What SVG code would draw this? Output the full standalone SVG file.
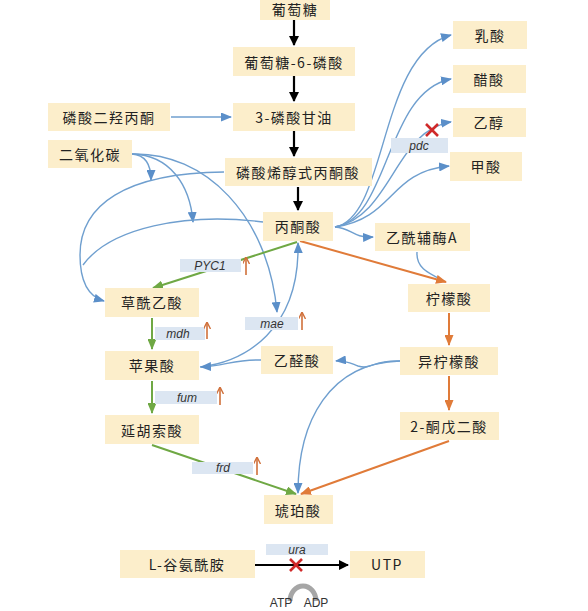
<svg xmlns="http://www.w3.org/2000/svg" width="588" height="611" viewBox="0 0 588 611">
<style>
.box{fill:#FCEECB}
.t{font-family:"Noto Sans CJK SC","Liberation Sans",sans-serif;font-size:14px;fill:#222;text-anchor:middle;dominant-baseline:central;letter-spacing:1.5px}
.lb{fill:#DCE6F2}
.lt{font-family:"Liberation Sans",Arial,sans-serif;font-size:12px;font-style:italic;fill:#333;text-anchor:middle;dominant-baseline:central}
.blue{fill:none;stroke:#6F9FCF;stroke-width:1.4}
.org{fill:none;stroke:#E07B39;stroke-width:2}
.grn{fill:none;stroke:#6FA844;stroke-width:2}
.blk{fill:none;stroke:#000;stroke-width:2.2}
.up{fill:none;stroke:#D0703A;stroke-width:1.6}
.x{stroke:#D02A2A;stroke-width:2.6;fill:none}
.ap{font-family:"Liberation Sans",Arial,sans-serif;font-size:12px;fill:#333;text-anchor:middle}
</style>
<defs>
<marker id="mb" markerWidth="11" markerHeight="9" refX="10" refY="4.5" orient="auto" markerUnits="userSpaceOnUse"><path d="M0,0 L11,4.5 L0,9 z" fill="#5B8FC9"/></marker>
<marker id="mo" markerWidth="11" markerHeight="9" refX="10" refY="4.5" orient="auto" markerUnits="userSpaceOnUse"><path d="M0,0 L11,4.5 L0,9 z" fill="#E07B39"/></marker>
<marker id="mg" markerWidth="11" markerHeight="9" refX="10" refY="4.5" orient="auto" markerUnits="userSpaceOnUse"><path d="M0,0 L11,4.5 L0,9 z" fill="#6FA844"/></marker>
<marker id="mk" markerWidth="10" markerHeight="10" refX="9" refY="5" orient="auto" markerUnits="userSpaceOnUse"><path d="M0,0 L10,5 L0,10 z" fill="#000"/></marker>
<marker id="mu" markerWidth="7" markerHeight="7" refX="6" refY="3.5" orient="auto" markerUnits="userSpaceOnUse"><path d="M0,0 L7,3.5 L0,7" fill="none" stroke="#D0703A" stroke-width="1.4"/></marker>
</defs>

<g id="connectors">
<path class="blk" d="M294,20 L294,45" marker-end="url(#mk)"/>
<path class="blk" d="M294,76 L294,101" marker-end="url(#mk)"/>
<path class="blk" d="M294,131 L294,156" marker-end="url(#mk)"/>
<path class="blk" d="M298,187 L298,210" marker-end="url(#mk)"/>
<path class="blue" d="M171,117 L231,117" marker-end="url(#mb)"/>
<path class="blue" d="M335,227 C388,218 378,55 451,35" marker-end="url(#mb)"/>
<path class="blue" d="M335,227 C390,218 385,92 451,79" marker-end="url(#mb)"/>
<path class="blue" d="M335,227 C392,216 395,130 451,122" marker-end="url(#mb)"/>
<path class="blue" d="M335,227 C395,218 388,172 449,166" marker-end="url(#mb)"/>
<path class="blue" d="M335,227 C352,228 352,238 373,237" marker-end="url(#mb)"/>
<path class="blue" d="M417,252 C416,268 428,273 444,281"/>
<path class="blue" d="M132,154 C146,155 151,165 151,180" marker-end="url(#mb)"/>
<path class="blue" d="M132,154 C170,155 190,185 193,222" marker-end="url(#mb)"/>
<path class="blue" d="M132,154 C205,152 268,215 277,312" marker-end="url(#mb)"/>
<path class="blue" d="M224,172 C125,173 80,205 80,255 C80,285 90,297 104,301" marker-end="url(#mb)"/>
<path class="blue" d="M263,222 C185,212 110,228 83,265"/>
<path class="blue" d="M200,367 C245,362 300,330 298,243" marker-end="url(#mb)"/>
<path class="blue" d="M261,360 C235,359 225,366 201,367" marker-end="url(#mb)"/>
<path class="blue" d="M400,361 C372,360 372,370 358,366 C350,363 345,360 336,361" marker-end="url(#mb)"/>
<path class="blue" d="M400,361 C330,363 298,420 298,493" marker-end="url(#mb)"/>
<path class="org" d="M300,241 L446,282" marker-end="url(#mo)"/>
<path class="org" d="M449,313 L449,345" marker-end="url(#mo)"/>
<path class="org" d="M449,376 L449,410" marker-end="url(#mo)"/>
<path class="org" d="M449,441 L301,494" marker-end="url(#mo)"/>
<path class="grn" d="M297,242 L153,288" marker-end="url(#mg)"/>
<path class="grn" d="M152,318 L152,349" marker-end="url(#mg)"/>
<path class="grn" d="M152,381 L152,413" marker-end="url(#mg)"/>
<path class="grn" d="M152,445 L296,494" marker-end="url(#mg)"/>
<path class="blk" d="M255,565 L348,565" marker-end="url(#mk)"/>
<path d="M290,601 A13,15 0 0 1 316,601" fill="none" stroke="#A6A6A6" stroke-width="5"/>
</g>

<g id="enzyme-labels">
<rect class="lb" x="391" y="138" width="57" height="15"/><text class="lt" x="419" y="146">pdc</text>
<rect class="lb" x="180" y="259" width="61" height="13"/><text class="lt" x="210" y="265.5">PYC1</text>
<path class="up" d="M246,275 L246,258" marker-end="url(#mu)"/>
<rect class="lb" x="155" y="327" width="50" height="13"/><text class="lt" x="178" y="333.5">mdh</text>
<path class="up" d="M207,339 L207,323" marker-end="url(#mu)"/>
<rect class="lb" x="245" y="317" width="53" height="13"/><text class="lt" x="272" y="323.5">mae</text>
<path class="up" d="M302,330 L302,313" marker-end="url(#mu)"/>
<rect class="lb" x="155" y="391" width="62" height="13"/><text class="lt" x="187" y="397.5">fum</text>
<path class="up" d="M220,405 L220,388" marker-end="url(#mu)"/>
<rect class="lb" x="192" y="462" width="61" height="12"/><text class="lt" x="223" y="468">frd</text>
<path class="up" d="M257,475 L257,458" marker-end="url(#mu)"/>
<rect class="lb" x="266" y="544" width="62" height="11"/><text class="lt" x="297" y="549.5">ura</text>
<path class="x" d="M426,124 L438,136 M438,124 L426,136"/>
<path class="x" d="M290,559 L302,571 M302,559 L290,571"/>
<text class="ap" x="281" y="607">ATP</text>
<text class="ap" x="316" y="607">ADP</text>
</g>

<g id="glucose"><rect class="box" x="260" y="-2" width="70" height="22"/><text class="t" x="295" y="9">葡萄糖</text></g>
<g id="g6p"><rect class="box" x="233" y="47" width="122" height="29"/><text class="t" x="294" y="62">葡萄糖-6-磷酸</text></g>
<g id="dhap"><rect class="box" x="48" y="103" width="122" height="28"/><text class="t" x="109" y="117">磷酸二羟丙酮</text></g>
<g id="g3p"><rect class="box" x="233" y="103" width="122" height="28"/><text class="t" x="294" y="117">3-磷酸甘油</text></g>
<g id="co2"><rect class="box" x="48" y="140" width="84" height="28"/><text class="t" x="90" y="154">二氧化碳</text></g>
<g id="pep"><rect class="box" x="225" y="158" width="147" height="28"/><text class="t" x="298" y="172">磷酸烯醇式丙酮酸</text></g>
<g id="pyruvate"><rect class="box" x="263" y="212" width="70" height="29"/><text class="t" x="298" y="226">丙酮酸</text></g>
<g id="acetylcoa"><rect class="box" x="375" y="223" width="95" height="28"/><text class="t" x="422" y="237">乙酰辅酶A</text></g>
<g id="lactate"><rect class="box" x="453" y="21" width="74" height="28"/><text class="t" x="490" y="35">乳酸</text></g>
<g id="acetate"><rect class="box" x="453" y="65" width="73" height="28"/><text class="t" x="489" y="79">醋酸</text></g>
<g id="ethanol"><rect class="box" x="453" y="108" width="73" height="29"/><text class="t" x="489" y="122">乙醇</text></g>
<g id="formate"><rect class="box" x="450" y="152" width="72" height="29"/><text class="t" x="486" y="166">甲酸</text></g>
<g id="oaa"><rect class="box" x="105" y="288" width="94" height="29"/><text class="t" x="152" y="302">草酰乙酸</text></g>
<g id="citrate"><rect class="box" x="408" y="284" width="82" height="28"/><text class="t" x="449" y="298">柠檬酸</text></g>
<g id="malate"><rect class="box" x="105" y="351" width="94" height="29"/><text class="t" x="152" y="365">苹果酸</text></g>
<g id="glyoxylate"><rect class="box" x="261" y="346" width="72" height="28"/><text class="t" x="297" y="360">乙醛酸</text></g>
<g id="isocitrate"><rect class="box" x="400" y="347" width="98" height="28"/><text class="t" x="449" y="361">异柠檬酸</text></g>
<g id="fumarate"><rect class="box" x="105" y="415" width="94" height="29"/><text class="t" x="152" y="430">延胡索酸</text></g>
<g id="akg"><rect class="box" x="400" y="412" width="99" height="28"/><text class="t" x="449" y="426">2-酮戊二酸</text></g>
<g id="succinate"><rect class="box" x="264" y="495" width="69" height="29"/><text class="t" x="298" y="510">琥珀酸</text></g>
<g id="glutamine"><rect class="box" x="120" y="550" width="135" height="28"/><text class="t" x="187" y="564">L-谷氨酰胺</text></g>
<g id="utp"><rect class="box" x="350" y="551" width="75" height="27"/><text class="t" x="387" y="564">UTP</text></g>
</svg>
